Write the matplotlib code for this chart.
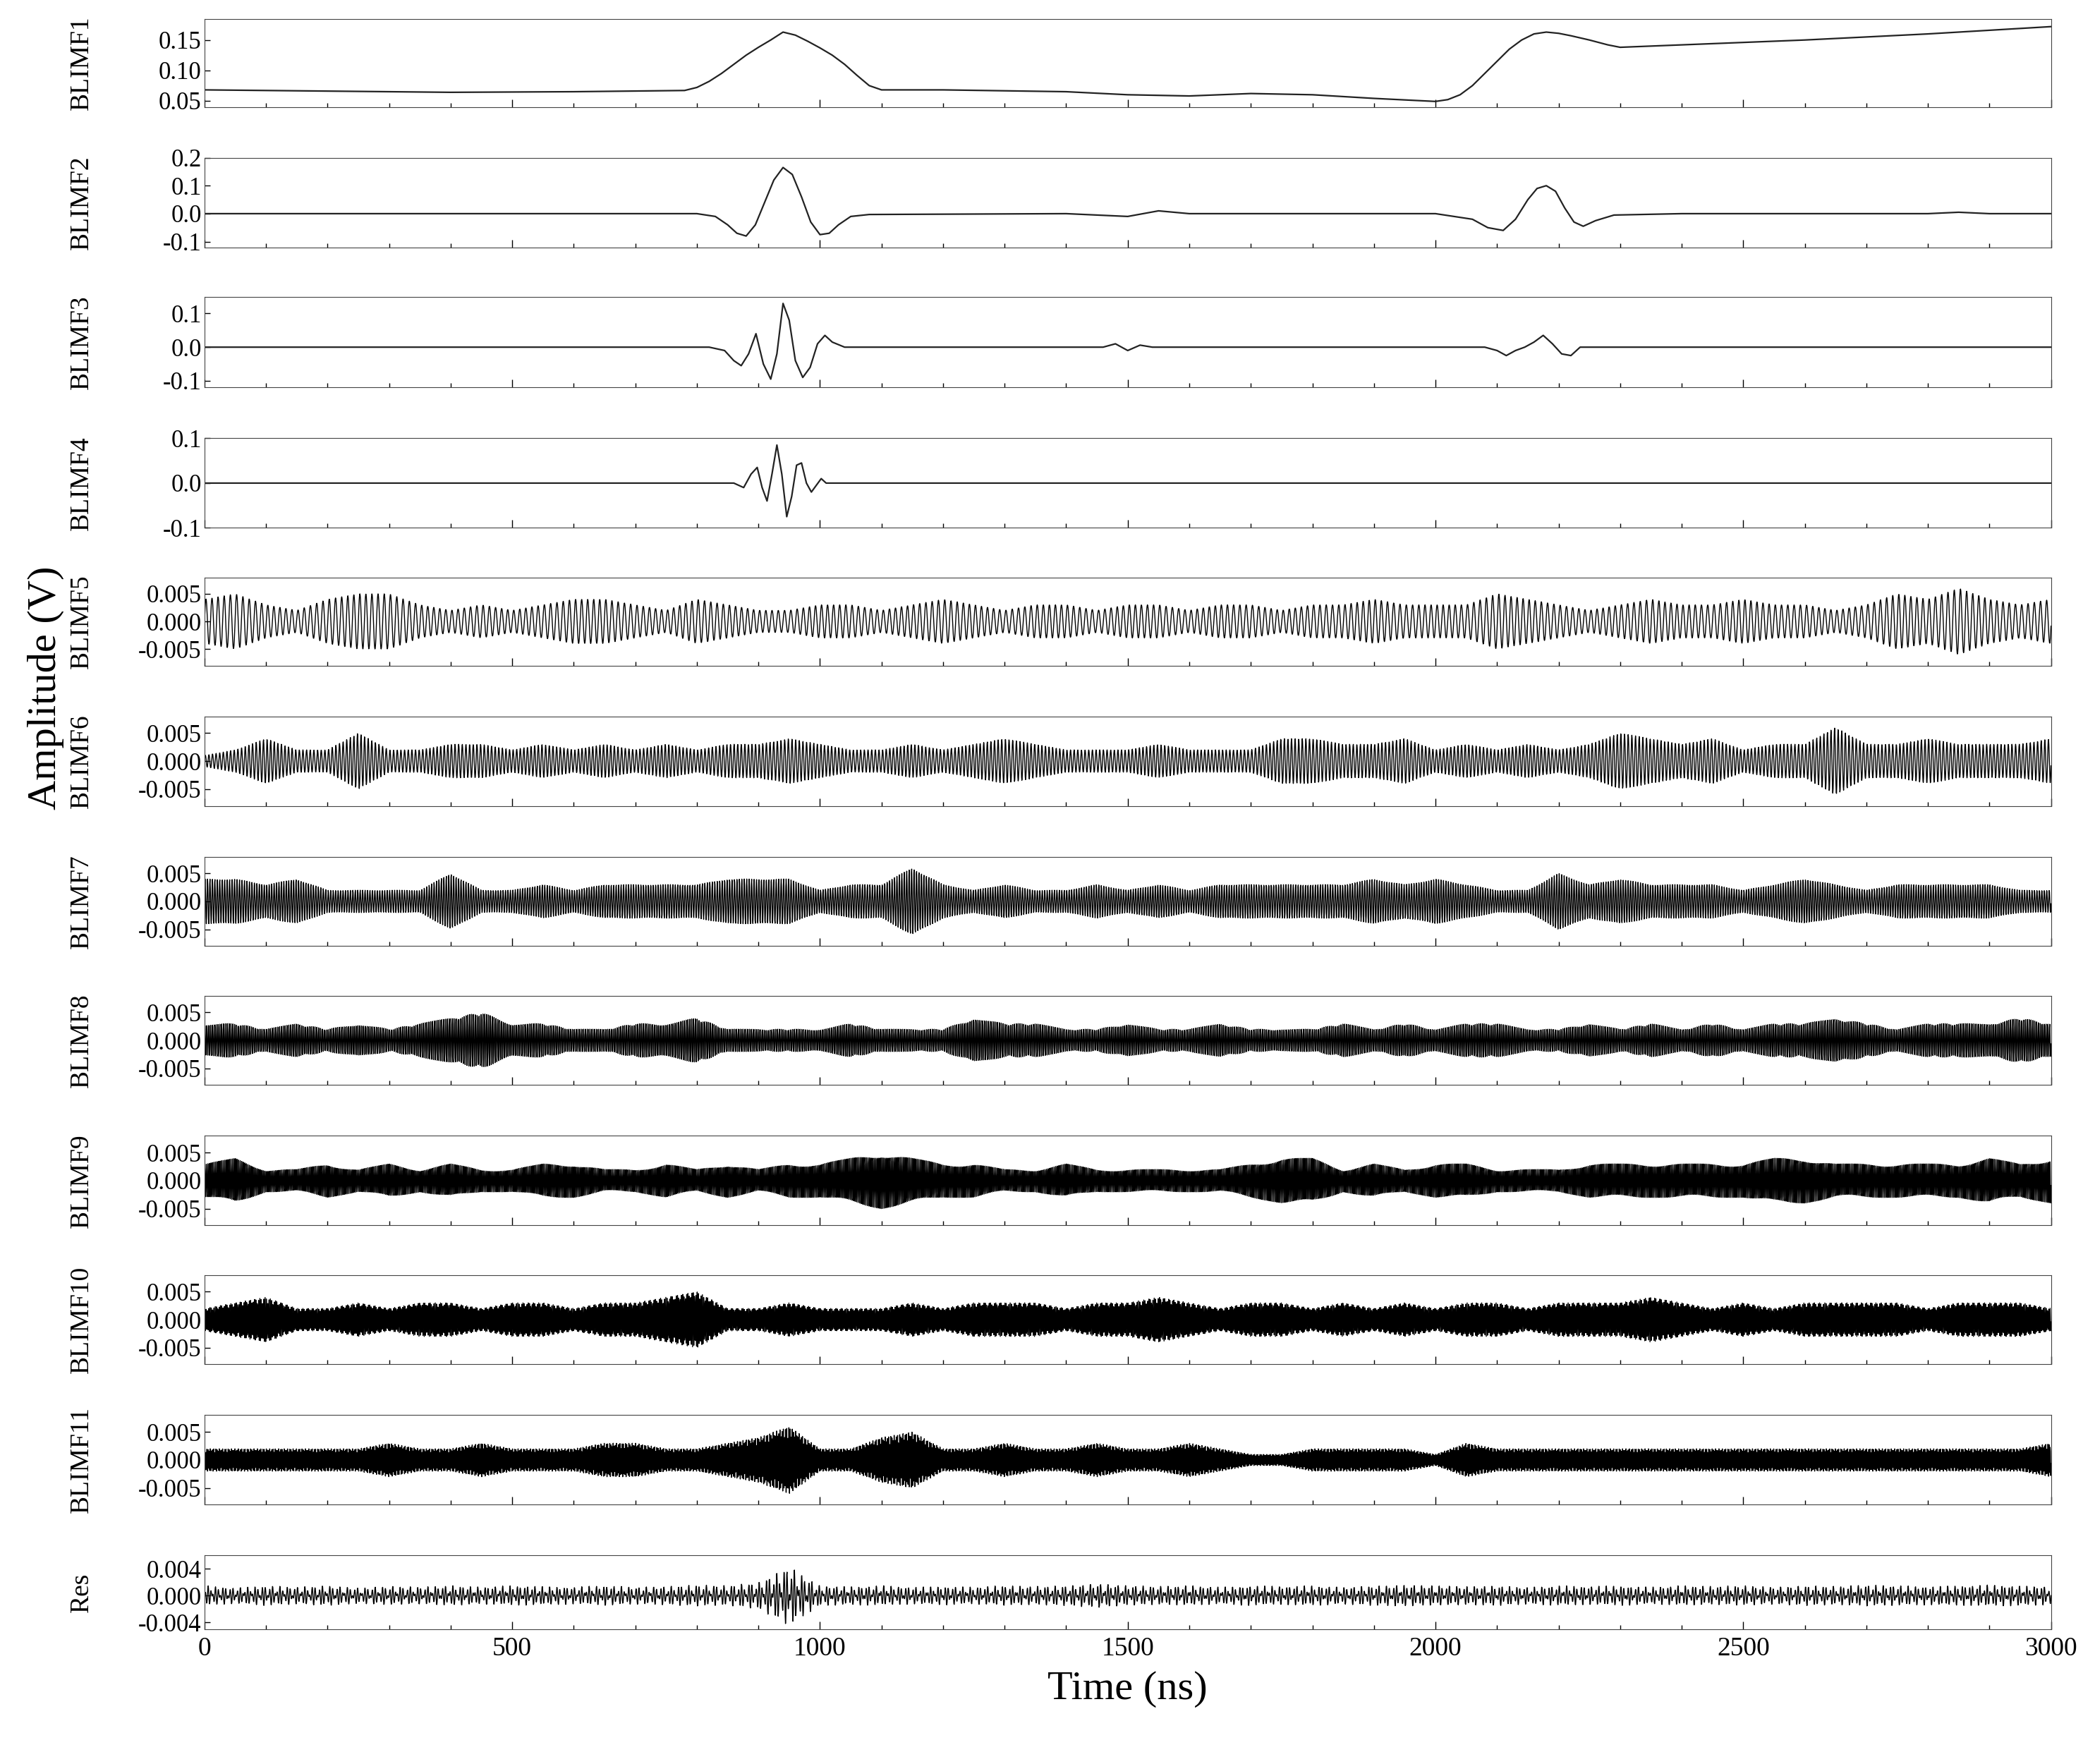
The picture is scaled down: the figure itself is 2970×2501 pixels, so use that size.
import numpy as np
import matplotlib
matplotlib.use("Agg")
import matplotlib.pyplot as plt
from matplotlib.ticker import MultipleLocator

plt.rcParams['font.family'] = ['Liberation Serif', 'DejaVu Serif']

# ---- smooth components: (time ns, amplitude V) ----
imf1_t = [0, 200, 400, 600, 780, 800, 820, 840, 860, 880, 900, 920, 940, 960, 980, 1000, 1020, 1040, 1060, 1080, 1100, 1200, 1400, 1500, 1600, 1700, 1800, 1900, 2000, 2020, 2040, 2060, 2080, 2100, 2120, 2140, 2160, 2180, 2200, 2220, 2250, 2280, 2300, 2400, 2600, 2800, 3000]
imf1_v = [0.068, 0.066, 0.064, 0.065, 0.067, 0.072, 0.082, 0.095, 0.110, 0.125, 0.138, 0.150, 0.163, 0.158, 0.148, 0.137, 0.125, 0.110, 0.092, 0.075, 0.068, 0.068, 0.065, 0.060, 0.058, 0.062, 0.060, 0.054, 0.049, 0.052, 0.060, 0.075, 0.095, 0.115, 0.135, 0.150, 0.160, 0.163, 0.161, 0.157, 0.150, 0.142, 0.138, 0.142, 0.150, 0.160, 0.172]

imf2_t = [0, 800, 830, 850, 865, 880, 895, 910, 925, 940, 955, 970, 985, 1000, 1015, 1030, 1050, 1080, 1400, 1500, 1550, 1600, 2000, 2060, 2085, 2110, 2130, 2150, 2165, 2180, 2195, 2210, 2225, 2240, 2260, 2290, 2400, 2800, 2850, 2900, 3000]
imf2_v = [0.0, 0.0, -0.01, -0.04, -0.07, -0.08, -0.04, 0.04, 0.12, 0.165, 0.14, 0.06, -0.03, -0.075, -0.07, -0.04, -0.01, -0.003, 0.0, -0.01, 0.01, 0.0, 0.0, -0.02, -0.05, -0.06, -0.02, 0.05, 0.09, 0.10, 0.08, 0.02, -0.03, -0.045, -0.025, -0.005, 0.0, 0.0, 0.005, 0.0, 0.0]

imf3_t = [0, 820, 845, 860, 872, 884, 896, 908, 920, 930, 940, 950, 960, 972, 984, 996, 1008, 1020, 1040, 1070, 1460, 1480, 1500, 1520, 1540, 2080, 2100, 2115, 2130, 2145, 2160, 2175, 2190, 2205, 2220, 2235, 2260, 3000]
imf3_v = [0.0, 0.0, -0.01, -0.04, -0.055, -0.02, 0.04, -0.05, -0.095, -0.02, 0.13, 0.08, -0.04, -0.09, -0.06, 0.01, 0.035, 0.015, 0.0, 0.0, 0.0, 0.01, -0.01, 0.006, 0.0, 0.0, -0.01, -0.025, -0.01, 0.0, 0.015, 0.035, 0.01, -0.02, -0.025, 0.0, 0.0, 0.0]

imf4_t = [0, 860, 876, 888, 898, 906, 914, 922, 930, 938, 946, 954, 962, 970, 978, 986, 994, 1002, 1010, 1025, 3000]
imf4_v = [0.0, 0.0, -0.01, 0.02, 0.035, -0.01, -0.04, 0.02, 0.085, 0.02, -0.075, -0.03, 0.04, 0.045, 0.0, -0.02, -0.005, 0.01, 0.0, 0.0, 0.0]

# ---- oscillatory components: envelope read every 50 ns (V) ----
env5 = [0.004, 0.005, 0.003, 0.002, 0.004, 0.005, 0.005, 0.003, 0.002, 0.003, 0.002, 0.003, 0.004, 0.004, 0.003, 0.002, 0.004, 0.003, 0.002, 0.002, 0.003, 0.003, 0.002, 0.003, 0.004, 0.003, 0.002, 0.003, 0.003, 0.002, 0.003, 0.003, 0.002, 0.003, 0.003, 0.002, 0.003, 0.003, 0.004, 0.003, 0.003, 0.003, 0.005, 0.004, 0.003, 0.002, 0.003, 0.004, 0.003, 0.003, 0.004, 0.003, 0.003, 0.002, 0.003, 0.005, 0.004, 0.006, 0.004, 0.003, 0.004]
env6 = [0.001, 0.002, 0.004, 0.002, 0.002, 0.005, 0.002, 0.002, 0.003, 0.003, 0.002, 0.003, 0.002, 0.003, 0.002, 0.003, 0.002, 0.003, 0.003, 0.004, 0.003, 0.002, 0.002, 0.003, 0.002, 0.003, 0.004, 0.003, 0.002, 0.002, 0.002, 0.003, 0.002, 0.002, 0.002, 0.004, 0.004, 0.003, 0.003, 0.004, 0.002, 0.003, 0.002, 0.003, 0.002, 0.003, 0.005, 0.004, 0.003, 0.004, 0.002, 0.003, 0.003, 0.006, 0.003, 0.003, 0.004, 0.003, 0.003, 0.003, 0.004]
env7 = [0.004, 0.004, 0.003, 0.004, 0.002, 0.002, 0.002, 0.002, 0.005, 0.002, 0.002, 0.003, 0.002, 0.003, 0.003, 0.003, 0.003, 0.004, 0.004, 0.004, 0.002, 0.003, 0.003, 0.006, 0.003, 0.002, 0.003, 0.002, 0.002, 0.003, 0.002, 0.003, 0.002, 0.003, 0.003, 0.003, 0.003, 0.003, 0.004, 0.003, 0.004, 0.003, 0.002, 0.002, 0.005, 0.003, 0.004, 0.003, 0.003, 0.003, 0.002, 0.003, 0.004, 0.003, 0.002, 0.003, 0.003, 0.003, 0.003, 0.002, 0.002]
env8 = [0.003, 0.003, 0.002, 0.003, 0.002, 0.003, 0.002, 0.003, 0.004, 0.005, 0.003, 0.003, 0.002, 0.002, 0.003, 0.003, 0.004, 0.002, 0.002, 0.002, 0.002, 0.003, 0.002, 0.002, 0.002, 0.004, 0.003, 0.003, 0.002, 0.002, 0.003, 0.002, 0.002, 0.003, 0.002, 0.002, 0.002, 0.003, 0.002, 0.003, 0.002, 0.003, 0.003, 0.002, 0.002, 0.003, 0.002, 0.003, 0.002, 0.003, 0.002, 0.003, 0.003, 0.004, 0.003, 0.002, 0.003, 0.003, 0.003, 0.004, 0.003]
env9 = [0.003, 0.004, 0.002, 0.002, 0.003, 0.002, 0.003, 0.002, 0.003, 0.002, 0.002, 0.003, 0.003, 0.002, 0.002, 0.003, 0.002, 0.003, 0.002, 0.003, 0.003, 0.004, 0.005, 0.004, 0.003, 0.003, 0.002, 0.002, 0.003, 0.002, 0.002, 0.002, 0.002, 0.002, 0.003, 0.004, 0.004, 0.002, 0.003, 0.002, 0.003, 0.003, 0.002, 0.002, 0.002, 0.003, 0.003, 0.003, 0.003, 0.003, 0.003, 0.004, 0.004, 0.003, 0.003, 0.003, 0.003, 0.003, 0.004, 0.003, 0.004]
env10 = [0.002, 0.003, 0.004, 0.002, 0.002, 0.003, 0.002, 0.003, 0.003, 0.002, 0.003, 0.003, 0.002, 0.003, 0.003, 0.004, 0.005, 0.002, 0.002, 0.003, 0.002, 0.002, 0.002, 0.003, 0.002, 0.003, 0.003, 0.003, 0.002, 0.003, 0.003, 0.004, 0.003, 0.002, 0.003, 0.003, 0.002, 0.003, 0.002, 0.003, 0.002, 0.003, 0.003, 0.002, 0.003, 0.003, 0.003, 0.004, 0.003, 0.002, 0.003, 0.002, 0.003, 0.003, 0.003, 0.003, 0.002, 0.003, 0.003, 0.003, 0.002]
env11 = [0.002, 0.002, 0.002, 0.002, 0.002, 0.002, 0.003, 0.002, 0.002, 0.003, 0.002, 0.002, 0.002, 0.003, 0.003, 0.002, 0.002, 0.003, 0.004, 0.006, 0.002, 0.002, 0.004, 0.005, 0.002, 0.002, 0.003, 0.002, 0.002, 0.003, 0.002, 0.002, 0.003, 0.002, 0.001, 0.001, 0.002, 0.002, 0.002, 0.002, 0.001, 0.003, 0.002, 0.002, 0.002, 0.002, 0.002, 0.002, 0.002, 0.002, 0.002, 0.002, 0.002, 0.002, 0.002, 0.002, 0.002, 0.002, 0.002, 0.002, 0.003]
envR = [0.0015, 0.0012, 0.0015, 0.0013, 0.0015, 0.0012, 0.0014, 0.0013, 0.0015, 0.0013, 0.0015, 0.0014, 0.0013, 0.0015, 0.0013, 0.0014, 0.0016, 0.0015, 0.0020, 0.0045, 0.0015, 0.0014, 0.0015, 0.0013, 0.0014, 0.0013, 0.0015, 0.0014, 0.0015, 0.0018, 0.0015, 0.0014, 0.0015, 0.0013, 0.0015, 0.0014, 0.0015, 0.0013, 0.0015, 0.0016, 0.0015, 0.0014, 0.0015, 0.0013, 0.0015, 0.0014, 0.0015, 0.0013, 0.0015, 0.0014, 0.0015, 0.0013, 0.0015, 0.0014, 0.0016, 0.0015, 0.0014, 0.0015, 0.0016, 0.0015, 0.0014]
env_t = list(range(0, 3001, 50))
carrier_freq = [0.10, 0.17, 0.25, 0.33, 0.40, 0.47, 0.55]  # cycles per ns, panels 5..11

labels = ['BLIMF1', 'BLIMF2', 'BLIMF3', 'BLIMF4', 'BLIMF5', 'BLIMF6', 'BLIMF7', 'BLIMF8', 'BLIMF9', 'BLIMF10', 'BLIMF11', 'Res']

fig = plt.figure(figsize=(29.70, 25.01), dpi=100)
L, R = 0.0976, 0.979
tops = [14, 118, 222, 328, 432, 536, 641, 745, 850, 954, 1059, 1164]
bots = [80, 185, 290, 395, 498, 603, 708, 812, 917, 1021, 1126, 1219]
H = 1320.0
axes = [fig.add_axes([L, 1 - b / H, R - L, (b - t) / H]) for t, b in zip(tops, bots)]

tt = np.arange(0, 3000.01, 0.5)
smooth = [(imf1_t, imf1_v), (imf2_t, imf2_v), (imf3_t, imf3_v), (imf4_t, imf4_v)]
for i, (t, v) in enumerate(smooth):
    axes[i].plot(t, v, color='#222222', lw=1.6)
envs = [env5, env6, env7, env8, env9, env10, env11]
for k, env in enumerate(envs):
    e = np.interp(tt, env_t, env)
    axes[4 + k].plot(tt, e * np.sin(2 * np.pi * carrier_freq[k] * tt + 0.3 * np.sin(0.05 * tt)), color='black', lw=1.0)
eR = np.interp(tt, env_t, envR)
axes[11].plot(tt, eR * np.sin(2 * np.pi * 0.21 * tt) * np.sin(2 * np.pi * 0.037 * tt + 1.3 * np.sin(0.011 * tt)), color='black', lw=1.0)

ylims = [(0.04, 0.185), (-0.12, 0.2), (-0.12, 0.15), (-0.1, 0.1)] + [(-0.008, 0.008)] * 7 + [(-0.005, 0.006)]
yticks = [[0.05, 0.10, 0.15], [-0.1, 0.0, 0.1, 0.2], [-0.1, 0.0, 0.1], [-0.1, 0.0, 0.1]] + [[-0.005, 0.0, 0.005]] * 7 + [[-0.004, 0.0, 0.004]]
fmts = ['%.2f', '%.1f', '%.1f', '%.1f'] + ['%.3f'] * 8
for i, ax in enumerate(axes):
    ax.set_xlim(0, 3000)
    ax.set_ylim(*ylims[i])
    ax.set_yticks(yticks[i])
    ax.set_yticklabels([fmts[i] % v for v in yticks[i]])
    ax.xaxis.set_major_locator(MultipleLocator(500))
    ax.xaxis.set_minor_locator(MultipleLocator(100))
    ax.tick_params(axis='both', which='both', direction='in', labelsize=25, width=1, pad=3)
    ax.tick_params(axis='x', which='major', length=8)
    ax.tick_params(axis='x', which='minor', length=4)
    ax.tick_params(axis='y', length=6)
    for s in ax.spines.values():
        s.set_color('#444444')
    ax.set_ylabel(labels[i], fontsize=27, rotation=90)
    ax.yaxis.set_label_coords(-0.06, 0.5)
    if i < 11:
        ax.tick_params(axis='x', labelbottom=False)
axes[-1].tick_params(axis='x', labelsize=27, pad=8)
axes[-1].set_xlabel('Time (ns)', fontsize=42, labelpad=10)
fig.text(0.022, 0.61, 'Amplitude (V)', rotation=90, fontsize=42, va='center', ha='center')
fig.savefig('out.png', dpi=100)
